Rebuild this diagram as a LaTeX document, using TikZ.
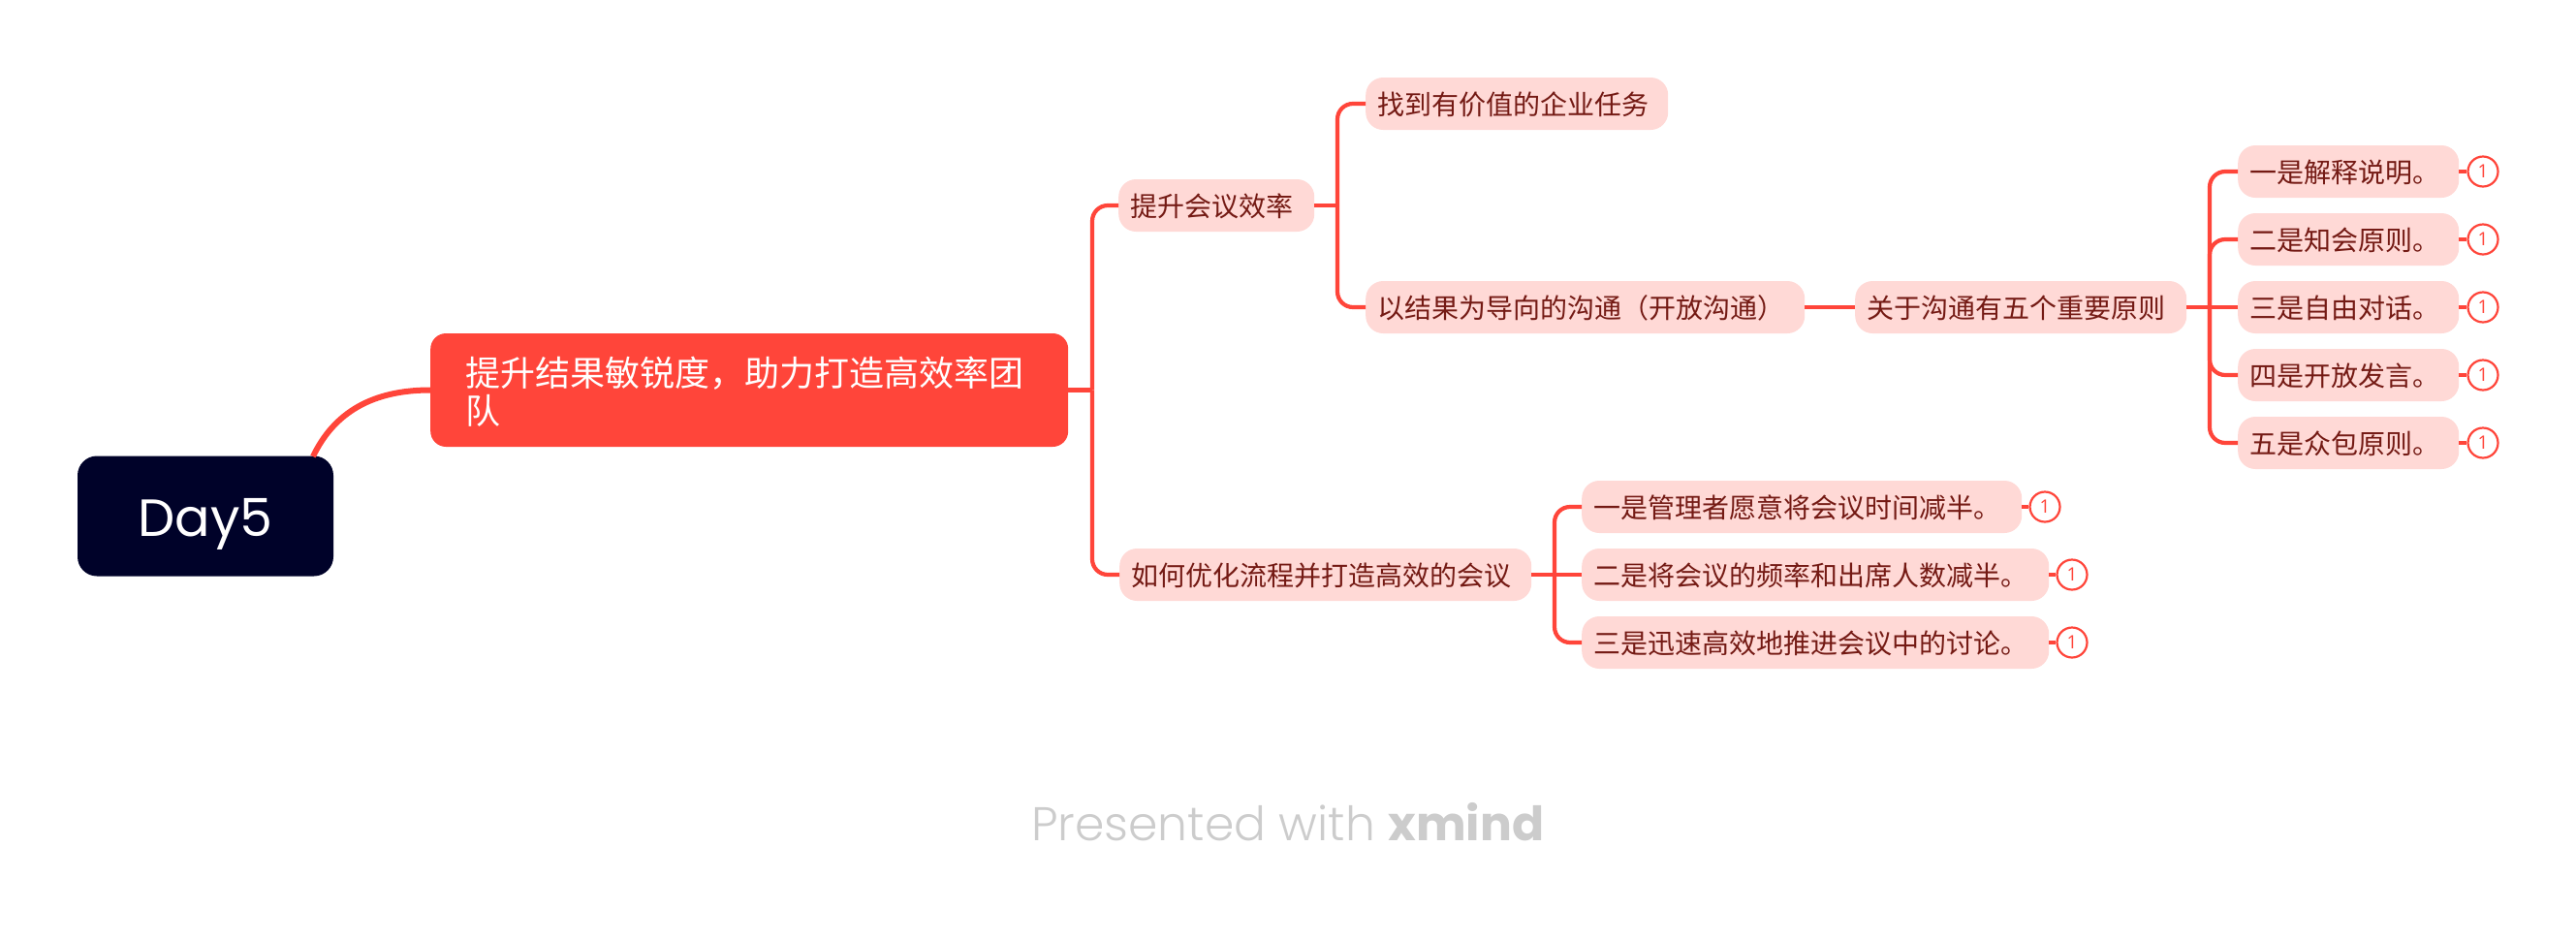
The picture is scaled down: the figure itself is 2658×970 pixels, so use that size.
\documentclass[tikz,border=0pt]{standalone}
\usepackage{fontspec}
\setmainfont{Noto Sans CJK SC}
\newfontfamily\popl{Poppins Light}
\newfontfamily\popr{Poppins}
\newfontfamily\popb{Poppins}[BoldFont={Poppins Bold}]
\newfontfamily\numf{Open Sans}
\definecolor{linec}{HTML}{FF453A}
\definecolor{pinkc}{HTML}{FFD9D6}
\definecolor{inkc}{HTML}{741A14}
\definecolor{navyc}{HTML}{000229}
\definecolor{greyc}{HTML}{CCCCCC}
\tikzset{
 topicbox/.style={anchor=west,rectangle,rounded corners=18pt,fill=pinkc,text=inkc,
   font=\fontsize{28}{34}\selectfont,minimum height=54pt,inner ysep=0pt,inner xsep=12pt,
   text width=#1-24pt,align=left,execute at end node={\vspace*{-3pt}}},
 conn/.style={draw=linec,line width=4.2pt,rounded corners=16pt},
 badge/.style={circle,draw=linec,line width=2.2pt,fill=white,text=linec,minimum size=31pt,inner sep=0pt,
   font=\numf\fontsize{19}{19}\selectfont},
}
\begin{document}
\begin{tikzpicture}[x=1pt,y=-1pt]
\useasboundingbox (0,0) rectangle (2658,970);
\node[anchor=center,rectangle,rounded corners=20pt,fill=navyc,text=white,minimum width=264pt,minimum height=124pt,inner sep=0pt,font=\popr\fontsize{54}{60}\selectfont] (day) at (212,532.5) {\raisebox{-21pt}[0pt][0pt]{Day5}};
\node[anchor=west,rectangle,rounded corners=16pt,fill=linec,text=white,minimum height=117pt,inner ysep=0pt,inner xsep=36pt,text width=586pt,align=left,font=\fontsize{36}{39.5}\selectfont] (main) at (444,402.5) {提升结果敏锐度，助力打造高效率团\\队\vspace*{-3pt}};

\node[topicbox=202pt] (a) at (1154,212) {提升会议效率};
\node[topicbox=312pt] (a1) at (1409,107) {找到有价值的企业任务};
\node[topicbox=453pt] (a2) at (1409,317) {以结果为导向的沟通（开放沟通）};
\node[topicbox=342pt] (a3) at (1914,317) {关于沟通有五个重要原则};
\node[topicbox=228pt] (l1) at (2309,177) {一是解释说明。};
\node[topicbox=228pt] (l2) at (2309,247) {二是知会原则。};
\node[topicbox=228pt] (l3) at (2309,317) {三是自由对话。};
\node[topicbox=228pt] (l4) at (2309,387) {四是开放发言。};
\node[topicbox=228pt] (l5) at (2309,457) {五是众包原则。};
\node[topicbox=425pt] (b) at (1155,593) {如何优化流程并打造高效的会议};
\node[topicbox=454pt] (m1) at (1632,523) {一是管理者愿意将会议时间减半。};
\node[topicbox=482pt] (m2) at (1632,593) {二是将会议的频率和出席人数减半。};
\node[topicbox=482pt] (m3) at (1632,663) {三是迅速高效地推进会议中的讨论。};

\foreach \n/\x/\y in {1/2562/177,2/2562/247,3/2562/317,4/2562/387,5/2562/457,6/2110/523,7/2138/593,8/2138/663}
  \node[badge] (c\n) at (\x,\y) {1};

\coordinate (d0) at (323,471);
\coordinate (j0) at (1127,402.5);
\coordinate (j1) at (1380,212);
\coordinate (j2) at (2280,317);
\coordinate (j3) at (1604,593);

\draw[draw=linec,line width=6pt] (d0) .. controls (345,425) and (385,402.5) .. (main.west);
\draw[conn] (main.east) -- (j0);
\draw[conn] (j0) |- (a.west);
\draw[conn] (j0) |- (b.west);
\draw[conn] (a.east) -- (j1);
\draw[conn] (j1) |- (a1.west);
\draw[conn] (j1) |- (a2.west);
\draw[conn] (a2.east) -- (a3.west);
\draw[conn] (a3.east) -- (j2);
\draw[conn] (j2) |- (l1.west);
\draw[conn] (j2) |- (l2.west);
\draw[conn] (j2) -- (l3.west);
\draw[conn] (j2) |- (l4.west);
\draw[conn] (j2) |- (l5.west);
\draw[conn] (b.east) -- (j3);
\draw[conn] (j3) |- (m1.west);
\draw[conn] (j3) -- (m2.west);
\draw[conn] (j3) |- (m3.west);
\foreach \s/\t in {l1/c1,l2/c2,l3/c3,l4/c4,l5/c5,m1/c6,m2/c7,m3/c8}
  \draw[conn] (\s.east) -- (\t.west);

\node[anchor=base west,inner sep=0pt,text=greyc,font=\fontsize{48.8}{50}\selectfont] (foot) at (1064,867) {{\popl Presented with }{\popb\bfseries xmind}};
\end{tikzpicture}
\end{document}
